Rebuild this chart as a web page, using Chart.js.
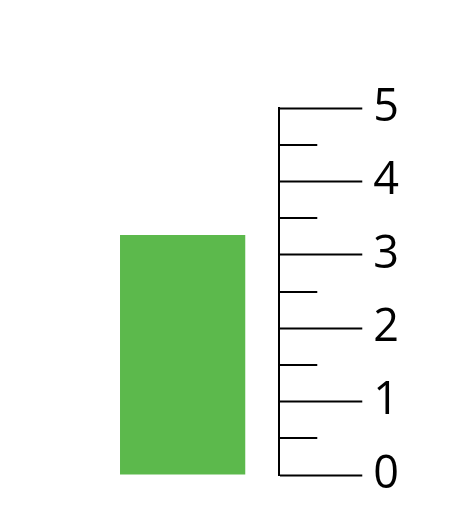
<!DOCTYPE html>
<html>
<head>
<meta charset="utf-8">
<script src="https://cdn.jsdelivr.net/npm/chart.js@4"></script>
<style>
html,body{margin:0;padding:0;background:#fff;}
#wrap{width:465px;height:531px;position:relative;}
</style>
</head>
<body>
<div id="wrap"><canvas id="c"></canvas></div>
<script>
const categories = [''];
const values = [3.27];
const majorTicks = [0, 1, 2, 3, 4, 5];
const minorTicks = [0.5, 1.5, 2.5, 3.5, 4.5];

const minorTickPlugin = {
  id: 'minorTicks',
  afterDraw(chart) {
    const s = chart.scales.y;
    const ctx = chart.ctx;
    ctx.save();
    ctx.strokeStyle = '#000';
    ctx.lineWidth = 2;
    minorTicks.forEach(v => {
      const y = Math.round(s.getPixelForValue(v));
      ctx.beginPath();
      ctx.moveTo(s.left, y);
      ctx.lineTo(s.left + 38, y);
      ctx.stroke();
    });
    ctx.restore();
  }
};

new Chart(document.getElementById('c'), {
  type: 'bar',
  data: {
    labels: categories,
    datasets: [{
      data: values,
      backgroundColor: '#5cb94c',
      borderWidth: 0,
      barPercentage: 0.648,
      categoryPercentage: 1
    }]
  },
  options: {
    responsive: true,
    maintainAspectRatio: false,
    animation: false,
    layout: { padding: { left: 86, top: 108, bottom: 56, right: 55 } },
    plugins: { legend: { display: false }, tooltip: { enabled: false } },
    scales: {
      x: { display: false },
      y: {
        position: 'right',
        min: 0,
        max: 5,
        afterBuildTicks(axis) { axis.ticks = majorTicks.map(v => ({ value: v })); },
        border: { display: true, color: '#000', width: 2 },
        grid: {
          drawOnChartArea: false,
          drawTicks: true,
          tickLength: 83,
          tickColor: '#000',
          tickWidth: 2
        },
        ticks: {
          color: '#000',
          padding: 11,
          font: { family: 'Open Sans', size: 45 },
          callback: v => String(v)
        }
      }
    }
  },
  plugins: [minorTickPlugin]
});
</script>
</body>
</html>
